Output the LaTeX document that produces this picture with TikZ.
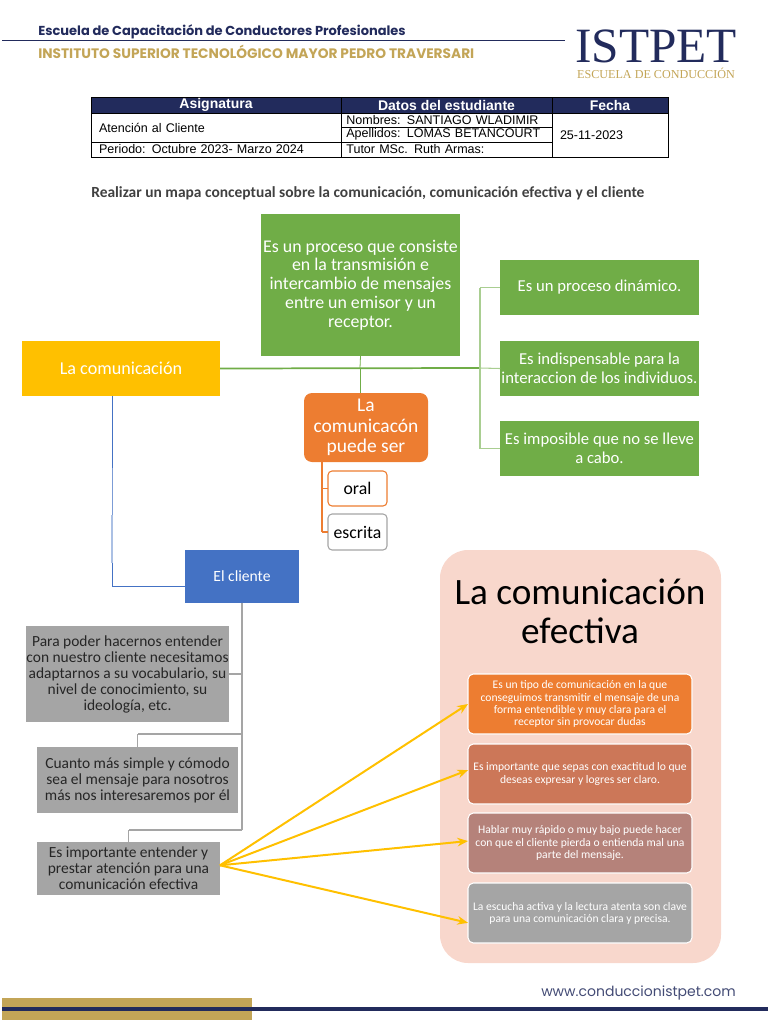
\documentclass[tikz,border=0pt]{standalone}
\usepackage{fontspec}
\usetikzlibrary{arrows.meta}
\setmainfont{Carlito}
\newfontfamily\tablefont{Liberation Sans}
\newfontfamily\logofont{Liberation Serif}
\newfontfamily\webfont{Poppins}
\definecolor{navy}{HTML}{222B5C}
\definecolor{gold}{HTML}{C3A557}
\definecolor{mapgreen}{HTML}{70AD47}
\definecolor{mapyellow}{HTML}{FFC000}
\definecolor{maporange}{HTML}{ED7D31}
\definecolor{mapblue}{HTML}{4472C4}
\definecolor{mapgray}{HTML}{A5A5A5}
\definecolor{mappink}{HTML}{F8D7CC}
\definecolor{mapbrick}{HTML}{CC7758}
\definecolor{maprose}{HTML}{B5827A}

\begin{document}
\begin{tikzpicture}
  [x=0.75pt,y=-0.75pt,
  wh/.style 2 args={minimum width=#1*0.75pt,minimum height=#2*0.75pt,
                  inner sep=0,outer sep=0,align=center},
  headcell/.style={rectangle,draw=black,fill=navy,text=white,font=\tablefont\bfseries\fontsize{10.5}{11}\selectfont},
  textcell/.style={rectangle,draw=black,anchor=west,align=left,inner ysep=0,outer sep=0,
                  font=\tablefont\fontsize{9.4}{10}\selectfont},
  greenbox/.style={rectangle,fill=mapgreen,text=white,font=\fontsize{13.4}{14.1}\selectfont},
  sidebox/.style={rectangle,fill=mapgreen,text=white,font=\fontsize{12.5}{14.1}\selectfont},
  graybox/.style={rectangle,fill=mapgray,text=black!85,font=\fontsize{11.6}{12}\selectfont},
  leafbox/.style={rectangle,rounded corners=3pt,fill=white,thick,text=black,font=\fontsize{13.3}{14}\selectfont},
  effbox/.style={rectangle,rounded corners=4pt,draw=white,thick,text=white,font=\fontsize{8.7}{9.1}\selectfont},
  greenline/.style={draw=mapgreen!60,thick},
  grayline/.style={draw=mapgray,thick},
  orangeline/.style={draw=maporange,thick},
  arrowline/.style={draw=mapyellow,line width=1.5pt,-{Stealth[length=8pt,width=6.5pt]}}
  ]
  \useasboundingbox (0,0) rectangle (768,1024);
% header
  \node[anchor=west,inner sep=0,text=navy,font=\webfont\fontsize{9.75}{12}\selectfont\bfseries] (school) at (38,32) {Escuela de Capacitación de Conductores Profesionales};
  \node[anchor=west,inner sep=0,text=gold,font=\webfont\fontsize{10.3}{12}\selectfont\bfseries] (institute) at (38,52) {INSTITUTO SUPERIOR TECNOLÓGICO MAYOR PEDRO TRAVERSARI};
  \coordinate (rule1) at (2,40.5);
  \coordinate (rule2) at (565,40.5);
  \draw[navy,semithick] (rule1) to (rule2);
  \node[anchor=center,inner sep=0,text=navy,font=\logofont\fontsize{37}{37}\selectfont] (logo) at (656,46.5) {ISTPET};
  \node[anchor=center,inner sep=0,text=gold,font=\logofont\fontsize{9.1}{10}\selectfont] (logosub) at (656,73.5) {ESCUELA DE CONDUCCIÓN};
% table
  \node[headcell,wh={250}{16}] (asig) at (216,105) {Asignatura};
  \node[headcell,wh={211}{16}] (datos) at (446.5,105) {Datos del estudiante};
  \node[headcell,wh={116}{16}] (fecha) at (610,105) {Fecha};
  \node[wh={250}{29},textcell,text width=175.5pt,inner xsep=6pt] (materia) at (91,127.5) {Atención al Cliente};
  \node[wh={211}{14},textcell,text width=150.25pt,inner xsep=4pt] (nombres) at (341,120) {Nombres: SANTIAGO WLADIMIR};
  \node[wh={211}{15},textcell,text width=150.25pt,inner xsep=4pt] (apellidos) at (341,134.5) {Apellidos: LOMAS BETANCOURT};
  \node[wh={116}{44},textcell,text width=75pt,inner xsep=6pt] (dia) at (552,135) {25-11-2023};
  \node[wh={250}{15},textcell,text width=175.5pt,inner xsep=6pt] (periodo) at (91,149.5) {Periodo: Octubre 2023- Marzo 2024};
  \node[wh={211}{15},textcell,text width=150.25pt,inner xsep=4pt] (tutor) at (341,149.5) {Tutor MSc. Ruth Armas:};
  \node[anchor=west,inner sep=0,text=black!75,font=\bfseries\fontsize{11.6}{12}\selectfont] (consigna) at (91,193.5) {Realizar un mapa conceptual sobre la comunicación, comunicación efectiva y el cliente};
% map
  \node[greenbox,wh={199}{142}] (proceso) at (360.5,285) {Es un proceso que consiste\\en la transmisión e\\intercambio de mensajes\\entre un emisor y un\\receptor.};
  \node[rectangle,fill=mapyellow,text=white,wh={198}{55},font=\fontsize{13.6}{14}\selectfont] (comun) at (121,368.5) {La comunicación};
  \node[sidebox,wh={199}{55}] (dinamico) at (599.5,287.5) {Es un proceso dinámico.};
  \node[sidebox,wh={199}{55}] (indisp) at (599.5,368.5) {Es indispensable para la\\interaccion de los individuos.};
  \node[sidebox,wh={199}{55}] (imposible) at (599.5,448.5) {Es imposible que no se lleve\\a cabo.};
  \node[rectangle,rounded corners=6pt,fill=maporange,text=white,wh={124}{69},font=\fontsize{14.6}{15.4}\selectfont] (puede) at (366,427.5) {La\\comunicacón\\puede ser};
  \node[leafbox,draw=maporange,wh={59}{35}] (oral) at (357.5,488.5) {oral};
  \node[leafbox,draw=mapgray,wh={59}{36}] (escrita) at (357.5,532) {escrita};
  \node[rectangle,fill=mapblue,text=white,wh={114}{53},font=\fontsize{11.7}{12}\selectfont] (cliente) at (242,576) {El cliente};
  \node[graybox,wh={203}{96}] (gris1) at (127.5,674) {Para poder hacernos entender\\con nuestro cliente necesitamos\\adaptarnos a su vocabulario, su\\nivel de conocimiento, su\\ideología, etc.};
  \node[graybox,wh={201}{66}] (gris2) at (137.5,780) {Cuanto más simple y cómodo\\sea el mensaje para nosotros\\más nos interesaremos por él};
  \node[graybox,wh={183}{53}] (gris3) at (128.5,868.5) {Es importante entender y\\prestar atención para una\\comunicación efectiva};
% panel on the right
  \node[rectangle,rounded corners=21pt,fill=mappink,wh={281}{413}] (panel) at (580.5,756.5) {};
  \node[text=black,align=center,inner sep=0,font=\fontsize{27.9}{29.3}\selectfont] (paneltit) at (580,611) {La comunicación\\efectiva};
  \node[effbox,fill=maporange,wh={224}{60}] (ef1) at (580,704) {Es un tipo de comunicación en la que\\conseguimos transmitir el mensaje de una\\forma entendible y muy clara para el\\receptor sin provocar dudas};
  \node[effbox,fill=mapbrick,wh={224}{60}] (ef2) at (580,774) {Es importante que sepas con exactitud lo que\\deseas expresar y logres ser claro.};
  \node[effbox,fill=maprose,wh={224}{60}] (ef3) at (580,843) {Hablar muy rápido o muy bajo puede hacer\\con que el cliente pierda o entienda mal una\\parte del mensaje.};
  \node[effbox,fill=mapgray,wh={224}{60}] (ef4) at (580,913) {La escucha activa y la lectura atenta son clave\\para una comunicación clara y precisa.};
% footer
  \node[rectangle,fill=gold,wh={250}{22}] (barra) at (127,1009) {};
  \coordinate (foot1) at (2,1009);
  \coordinate (foot2) at (768,1009);
  \draw[navy,line width=3.4pt] (foot1) to (foot2);
  \node[anchor=center,inner sep=0,text=navy!85,font=\webfont\fontsize{10.5}{12}\selectfont] (web) at (638.5,993) {www.conduccionistpet.com};
% connectors
  \coordinate (m1) at (480,368);
  \coordinate (m2) at (480,287.5);
  \coordinate (m3) at (480,448.5);
  \coordinate (m4) at (360,368);
  \draw[mapgreen,line width=1.3pt] (comun.east) to (m1);
  \draw[greenline] (m1) to (indisp.west);
  \draw[greenline] (m2) to (m3);
  \draw[greenline] (m2) to (dinamico.west);
  \draw[greenline] (m3) to (imposible.west);
  \draw[mapgreen,semithick] (proceso.south) to (m4);
  \draw[mapgreen,semithick] (m4) to (m4 |- puede.north);
  \coordinate (o1) at (322,462);
  \coordinate (o2) at (322,488.5);
  \coordinate (o3) at (322,532);
  \draw[orangeline] (o1) to (o3);
  \draw[orangeline] (o2) to (oral.west);
  \draw[orangeline] (o3) to (escrita.west);
  \coordinate (b1) at (112,396);
  \coordinate (b2) at (112,468);
  \coordinate (b3) at (112,515);
  \coordinate (b4) at (112,563);
  \coordinate (b5) at (112,586.5);
  \draw[mapblue,semithick] (b1) to (b2);
  \draw[mapblue!70,semithick] (b2) to (b3);
  \draw[mapblue!45,thick] (b3) to (b4);
  \draw[mapblue,semithick] (b4) to (b5);
  \draw[mapblue,semithick] (b5) to (b5 -| cliente.west);
  \coordinate (g1) at (242,674);
  \coordinate (g2) at (242,734);
  \coordinate (g3) at (242,830);
  \coordinate (g4) at (137.5,734);
  \coordinate (g5) at (128.5,830);
  \draw[grayline] (cliente.south) to (g3);
  \draw[grayline] (gris1.east) to (g1);
  \draw[grayline] (g2) to (g4);
  \draw[grayline] (g4) to (g4 |- gris2.north);
  \draw[grayline] (g3) to (g5);
  \draw[grayline] (g5) to (gris3.north);
  \draw[arrowline] (gris3.2) to (ef1.west);
  \draw[arrowline] (gris3.2) to (ef2.178);
  \draw[arrowline] (gris3.2) to (ef3.179);
  \draw[arrowline] (gris3.2) to (ef4.185);
\end{tikzpicture}
\end{document}
